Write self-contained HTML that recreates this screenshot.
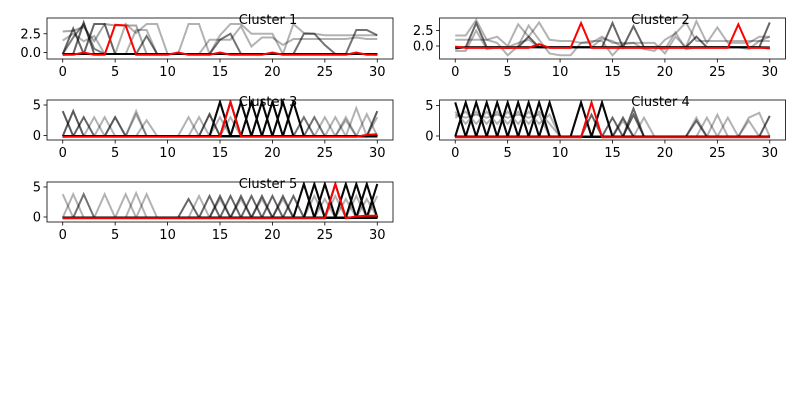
<!DOCTYPE html>
<html><head><meta charset="utf-8"><style>
body{margin:0;background:#fff;}
svg{display:block;font-family:"DejaVu Sans","Liberation Sans",sans-serif;}
</style></head><body>
<svg id="fig" width="800" height="400" viewBox="0 0 800 400"></svg>
<script>
// ---- data: each series = list of [x, value] points that differ from the cluster baseline ----
const xCategories = [0,1,2,3,4,5,6,7,8,9,10,11,12,13,14,15,16,17,18,19,20,21,22,23,24,25,26,27,28,29,30];
const xTickLabels = [0,5,10,15,20,25,30];
const clusterTitles = ["Cluster 1","Cluster 2","Cluster 3","Cluster 4","Cluster 5"];
const c1YTicks = [0.0,2.5];
const c2YTicks = [0.0,2.5];
const c345YTicks = [0,5];
const baselines = [-0.2,-0.2,-0.1,-0.1,-0.1];

const c1Series = [
 [[1,3.2]], [[2,4.0]], [[3,3.8],[4,3.8]],
 [[0,2.8],[1,2.9],[2,3.4],[3,1.5],[4,3.8],[5,3.6],[6,3.6],[7,3.6]],
 [[0,1.6],[1,2.5],[2,1.5],[3,2.2],[6,3.8],[7,2.6],[8,3.8],[9,3.8]],
 [[7,3.0],[8,3.0]],
 [[12,3.8],[13,3.8],[15,2.3],[16,3.8],[17,3.8],[18,2.5],[19,2.5],[20,2.5],[22,3.8],[23,2.6],[24,2.5],[25,2.3],[26,2.3],[27,2.3],[28,2.3],[29,2.3],[30,2.3]],
 [[14,1.7],[15,1.7],[16,1.7],[17,3.5],[18,0.8],[19,2.0],[20,2.0],[21,1.0],[22,1.8],[23,1.8],[24,1.8],[25,1.8],[26,1.8],[27,1.8],[28,2.0],[29,1.8],[30,1.8]],
 [[15,1.7],[16,2.5],[23,2.5],[24,2.5],[25,1.0],[28,3.0],[29,3.0],[30,2.3]],
 [[8,2.2]], [[0,-0.3]], [[30,-0.3]], [[1,2.0],[2,3.8],[3,0.5]]
];
const c1Alpha = [.6,.6,.6,.35,.3,.3,.3,.3,.55,.55,.85,.85,.5];
const c1Red = [[2,0.0],[5,3.7],[6,3.6],[11,0.0],[15,0.0],[20,0.0],[28,0.0]];

const c2Series = [
 [[2,3.7],[7,1.5],[15,3.7],[17,3.2],[23,1.5],[30,3.8]],
 [[0,1.7],[1,1.7],[2,4.2],[3,1.0],[4,0.5],[5,-1.5],[6,0],[7,3.3],[8,1.0],[9,-1.2],[10,-1.5],[11,-1.5],[12,0.5],[13,0.8],[14,0.8],[15,-1.5],[16,0.3],[17,0.5],[18,0.5],[19,0.5],[20,-1.2],[21,1.5],[22,-0.2],[23,4.0],[24,0.5],[25,3.0],[26,0.5],[27,0.5],[28,0.5],[29,1.5],[30,1.5]],
 [[0,1.0],[1,1.0],[2,1.0],[3,1.0],[4,1.5],[5,0],[6,3.5],[7,1.5],[8,3.8],[9,1.0],[10,0.8],[11,0.8],[12,0.5],[13,0.5],[14,1.5],[15,0.5],[16,0.5],[17,0.5],[18,-0.5],[19,-0.8],[20,1.0],[21,2.0],[22,3.8],[23,0.8],[24,0.8],[25,0.8],[26,0.8],[27,0.8],[28,0.8],[29,0.8],[30,0.8]],
 [[0,-0.8],[1,-0.8],[2,2.5],[3,-0.5],[6,0.5],[7,1.0],[14,1.2],[15,0.8],[20,-0.5],[21,2.2],[22,-0.5],[28,-0.5],[29,0.8],[30,1.5]],
 [[0,-0.4],[30,-0.4]], [[5,-0.3]]
];
const c2Alpha = [.6,.3,.3,.3,.85,.85];
const c2Red = [[0,-0.1],[8,0.3],[12,3.7],[27,3.5]];

const c3Series = [
 [[15,5.5]],[[16,5.5]],[[17,5.5]],[[18,5.5]],[[19,5.5]],[[20,5.5]],[[21,5.5]],[[22,5.5]],
 [[15,5.5]],[[17,5.5]],[[18,5.5]],[[19,5.5]],[[20,5.5]],[[21,5.5]],[[22,5.5]],
 [[0,4]],[[1,4]],[[2,3]],[[30,4]],[[14,3.5]],[[23,3]],[[24,3]],[[5,3]],
 [[3,3],[5,3],[7,4]],[[4,3],[8,2.5]],[[12,3],[14,3.5],[16,3]],[[13,3],[15,3],[25,3],[27,3]],
 [[26,3],[28,4.5],[30,3]],[[27,2.5],[29,3.5]],[[7,3.5]],[[0,-0.2]]
];
const c3Alpha = [.9,.9,.9,.9,.9,.9,.9,.9,.7,.7,.7,.7,.7,.7,.7,.65,.65,.6,.65,.55,.55,.55,.5,.3,.3,.3,.3,.3,.3,.3,.9];
const c3Red = [[16,5.5],[29,0.1],[30,0.2]];

const c4Series = [
 [[0,5.5]],[[1,5.5]],[[2,5.5]],[[3,5.5]],[[4,5.5]],[[5,5.5]],[[6,5.5]],[[7,5.5]],[[8,5.5]],[[9,5.5]],[[12,5.5]],[[14,5.5]],
 [[0,5.5]],[[1,5.5]],[[2,5.5]],[[3,5.5]],[[4,5.5]],[[5,5.5]],[[6,5.5]],[[7,5.5]],[[8,5.5]],[[9,5.5]],[[12,5.5]],[[14,5.5]],
 [[0,4],[1,2],[2,4],[3,2],[4,4],[5,2],[6,4],[7,2],[8,4],[9,2]],
 [[0,3],[1,4],[2,2],[3,4],[4,2],[5,4],[6,2],[7,4],[8,2],[9,3.5]],
 [[0,3.5],[1,3],[2,3.5],[3,3],[4,3.5],[5,3],[6,3.5],[7,3],[8,3.5]],
 [[13,3.5]],[[15,3]],[[16,3]],[[17,4.5]],[[17,3.5]],
 [[18,3]],[[23,3],[25,3.5]],[[24,3],[26,3]],[[28,3],[29,3.8]],[[23,2.5]],[[30,3.3]],[[16,2.5],[28,2.5]]
];
const c4Alpha = [.9,.9,.9,.9,.9,.9,.9,.9,.9,.9,.9,.9,.7,.7,.7,.7,.7,.7,.7,.7,.7,.7,.7,.7,.3,.3,.3,.6,.6,.6,.6,.6,.3,.3,.3,.3,.55,.65,.3];
const c4Red = [[13,5.5]];

const c5Series = [
 [[23,5.5]],[[24,5.5]],[[25,5.5]],[[26,5.5]],[[27,5.5]],[[28,5.5]],[[29,5.5]],[[30,5.5]],
 [[23,5.5]],[[24,5.5]],[[25,5.5]],[[27,5.5]],[[28,5.5]],[[29,5.5]],[[30,5.5]],
 [[12,3]],[[14,3.5]],[[15,3.5]],[[16,3.5]],[[17,3.5]],[[18,3.5]],[[19,3.5]],[[20,3.5]],[[21,3.5]],[[22,3.5]],[[2,3.8]],
 [[0,3.8],[4,3.8],[7,4]],[[1,3.8]],[[6,3.8],[8,3.8]],[[13,3.5],[15,3],[17,3],[19,3],[21,3]],
 [[24,3.5],[26,3.5],[28,3.5],[30,3.5]],[[25,3],[27,3],[29,3]],[[0,-0.2]]
];
const c5Alpha = [.9,.9,.9,.9,.9,.9,.9,.9,.7,.7,.7,.7,.7,.7,.7,.6,.6,.6,.6,.6,.6,.6,.6,.6,.6,.55,.3,.3,.3,.3,.3,.3,.9];
const c5Red = [[26,5.5],[28,0.1],[29,0.2],[30,0.2]];

// ---- layout ----
const axesBoxes = [
 {L:47,R:393,T:18,B:59,y0:52.5,yUnit:7.5,ticks:c1YTicks,fmt:1},
 {L:439.5,R:785.5,T:18,B:59,y0:46,yUnit:6.2,ticks:c2YTicks,fmt:1},
 {L:47,R:393,T:100,B:140,y0:135.5,yUnit:6.1,ticks:c345YTicks,fmt:0},
 {L:439.5,R:785.5,T:100,B:140,y0:136,yUnit:6.1,ticks:c345YTicks,fmt:0},
 {L:47,R:393,T:182,B:222,y0:217,yUnit:6.0,ticks:c345YTicks,fmt:0}
];
const allSeries=[c1Series,c2Series,c3Series,c4Series,c5Series];
const allAlpha=[c1Alpha,c2Alpha,c3Alpha,c4Alpha,c5Alpha];
const allRed=[c1Red,c2Red,c3Red,c4Red,c5Red];

const NS="http://www.w3.org/2000/svg";
const svg=document.getElementById('fig');
function mk(tag,attrs,parent){const e=document.createElementNS(NS,tag);for(const k in attrs)e.setAttribute(k,attrs[k]);(parent||svg).appendChild(e);return e;}

function expand(points,base){
  const vals=xCategories.map(()=>base);
  points.forEach(p=>{vals[p[0]]=p[1];});
  return vals;
}

axesBoxes.forEach((ax,i)=>{
  const xs=(ax.R-ax.L)/33;
  const xScale=v=>ax.L+(v+1.5)*xs;
  const yScale=v=>ax.y0-v*ax.yUnit;
  const g=mk('g',{});
  
  
  const cp=mk('clipPath',{id:'cp'+i},g);
  mk('rect',{x:ax.L,y:ax.T,width:ax.R-ax.L,height:ax.B-ax.T},cp);
  const plot=mk('g',{'clip-path':'url(#cp'+i+')'},g);
  const lineOf=(vals)=>vals.map((v,j)=>(j?'L':'M')+xScale(xCategories[j]).toFixed(2)+' '+yScale(v).toFixed(2)).join(' ');
  allSeries[i].forEach((s,j)=>{
    const p=mk('path',{d:lineOf(expand(s,baselines[i])),fill:'none',stroke:'#000','stroke-opacity':allAlpha[i][j],'stroke-width':2,'stroke-linejoin':'miter'},plot);
    
    
  });
  const r=mk('path',{d:lineOf(expand(allRed[i],baselines[i]-0.1)),fill:'none',stroke:'#ff0000','stroke-width':2},plot);
  
  
  const fr=mk('rect',{x:ax.L,y:ax.T,width:ax.R-ax.L,height:ax.B-ax.T,fill:'none',stroke:'#000','stroke-width':0.8},g);
  
  
  xTickLabels.forEach(t=>{
    const x=xScale(t);
    mk('line',{x1:x,x2:x,y1:ax.B,y2:ax.B+3.5,stroke:'#000','stroke-width':0.8},g);
    const tx=mk('text',{x:x,y:ax.B+17,'text-anchor':'middle','font-size':13},g);
    tx.textContent=t;
    
    
  });
  ax.ticks.forEach(t=>{
    const y=yScale(t);
    mk('line',{x1:ax.L-3.5,x2:ax.L,y1:y,y2:y,stroke:'#000','stroke-width':0.8},g);
    const tx=mk('text',{x:ax.L-6,y:y+4.5,'text-anchor':'end','font-size':13},g);
    tx.textContent=ax.fmt?t.toFixed(1):t;
    
    
  });
  const title=mk('text',{x:(ax.L+ax.R)/2+48,y:ax.T+6,'text-anchor':'middle','font-size':13},g);
  title.textContent=clusterTitles[i];
  
  
});
</script>
</body></html>
